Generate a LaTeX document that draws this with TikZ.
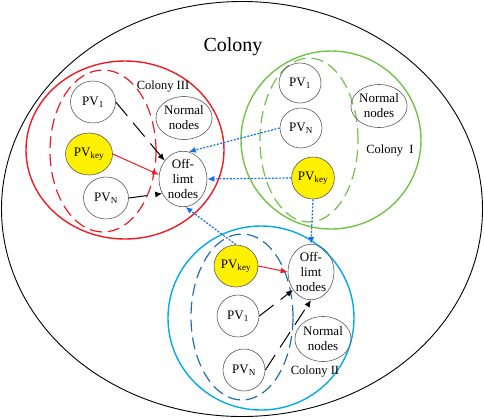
\documentclass[tikz,border=0pt]{standalone}
\usepackage{fontspec}
\setmainfont{Liberation Serif}
\usetikzlibrary{shapes.geometric,arrows.meta}
\definecolor{redc}{RGB}{236,28,36}
\definecolor{greenc}{RGB}{112,196,72}
\definecolor{cyanc}{RGB}{0,170,236}
\definecolor{bluedash}{RGB}{30,110,180}
\definecolor{bluedot}{RGB}{20,110,245}
\definecolor{keyfill}{RGB}{255,240,0}
\tikzset{
	pv/.style={draw=black!65, line width=0.6pt, ellipse, minimum width=45pt, minimum height=42pt, inner sep=0pt, align=center, font=\fontsize{13}{15}\selectfont},
	pvkey/.style={pv, fill=keyfill},
	offlimt/.style={pv, minimum width=48pt, minimum height=44pt},
	colonytext/.style={font=\fontsize{12.5}{14}\selectfont},
	dashring/.style={line width=1.2pt, dash pattern=on 12pt off 6pt},
	blackarrow/.style={black, line width=1pt, dash pattern=on 18pt off 9pt, -{Latex[length=7pt,width=6pt]}},
	redarrow/.style={redc, line width=1pt, -{Latex[length=7pt,width=6pt]}},
	dotarrow/.style={bluedot, line width=1.2pt, dash pattern=on 2pt off 1.5pt, -{Latex[length=7pt,width=6pt]}}
}
\begin{document}
\begin{tikzpicture}[x=1pt,y=-1pt]
		%%%%% START %%%%%
		\useasboundingbox (0,0) rectangle (484,418);
		\draw[line width=0.9pt] (242,209) ellipse [x radius=240.5pt, y radius=207.5pt];
		\node[font=\fontsize{20}{24}\selectfont, anchor=base] (title) at (233,51) {Colony};
		
		% colony III
		\draw[redc, line width=1.4pt] (125,150) ellipse [x radius=99pt, y radius=89pt];
		\draw[redc, dashring] (103,151) ellipse [x radius=53pt, y radius=81pt];
		\node[colonytext] (labIII) at (163,87) {Colony III};
		\node[pv] (p1III) at (93,102) {PV\textsubscript{1}};
		\node[pvkey, minimum width=47pt] (pkeyIII) at (89,154) {PV\textsubscript{key}};
		\node[pv] (pnIII) at (106,198) {PV\textsubscript{N}};
		\node[pv, minimum width=44pt, minimum height=43pt] (normIII) at (184,118) {Normal\\nodes};
		\node[offlimt] (offIII) at (183,179) {Off-\\limt\\nodes};
		
		% colony I
		\draw[greenc, line width=1.4pt] (331,140) ellipse [x radius=90pt, y radius=89pt];
		\draw[greenc, dashring] (309,140) ellipse [x radius=49pt, y radius=82pt];
		\node[colonytext] (labI) at (390,151) {Colony\ \ I};
		\node[pv, minimum width=42pt, minimum height=40pt] (p1I) at (300,83) {PV\textsubscript{1}};
		\node[pv, minimum width=42pt, minimum height=40pt] (pnI) at (301,128) {PV\textsubscript{N}};
		\node[pv, minimum width=44pt, minimum height=43pt] (normI) at (379,106) {Normal\\nodes};
		\node[pvkey, minimum width=42pt] (pkeyI) at (313,178) {PV\textsubscript{key}};
		
		% colony II
		\draw[cyanc, line width=1.4pt] (261,318) ellipse [x radius=93pt, y radius=92pt];
		\draw[bluedash, dashring] (242,317) ellipse [x radius=51pt, y radius=83pt];
		\node[colonytext] (labII) at (315,372) {Colony II};
		\node[pvkey, minimum width=44pt] (pkeyII) at (236,266) {PV\textsubscript{key}};
		\node[offlimt, minimum width=46pt] (offII) at (311,272) {Off-\\limt\\nodes};
		\node[pv, minimum width=42pt] (p1II) at (238,316) {PV\textsubscript{1}};
		\node[pv, minimum width=46pt, minimum height=45pt] (normII) at (323,339) {Normal\\nodes};
		\node[pv, minimum width=42pt] (pnII) at (244,370) {PV\textsubscript{N}};
		
		% links
		\draw[blackarrow] (p1III.east) -- (offIII.135);
		\draw[blackarrow] (pnIII.east) -- (offIII.215);
		\draw[redarrow] (pkeyIII.east) -- (offIII.170);
		\draw[dotarrow] (pnI.west) -- (offIII.78);
		\draw[dotarrow] (pkeyI.west) -- (offIII.east);
		\draw[dotarrow] (pkeyII.north) -- (offIII.-85);
		\draw[dotarrow] (pkeyI.south) -- (offII.north);
		\draw[redarrow] (pkeyII.east) -- (offII.west);
		\draw[blackarrow] (p1II.east) -- (offII.225);
		\draw[blackarrow] (pnII.east) -- (offII.south);
		%%%%% END %%%%%
	\end{tikzpicture}
\end{document}
